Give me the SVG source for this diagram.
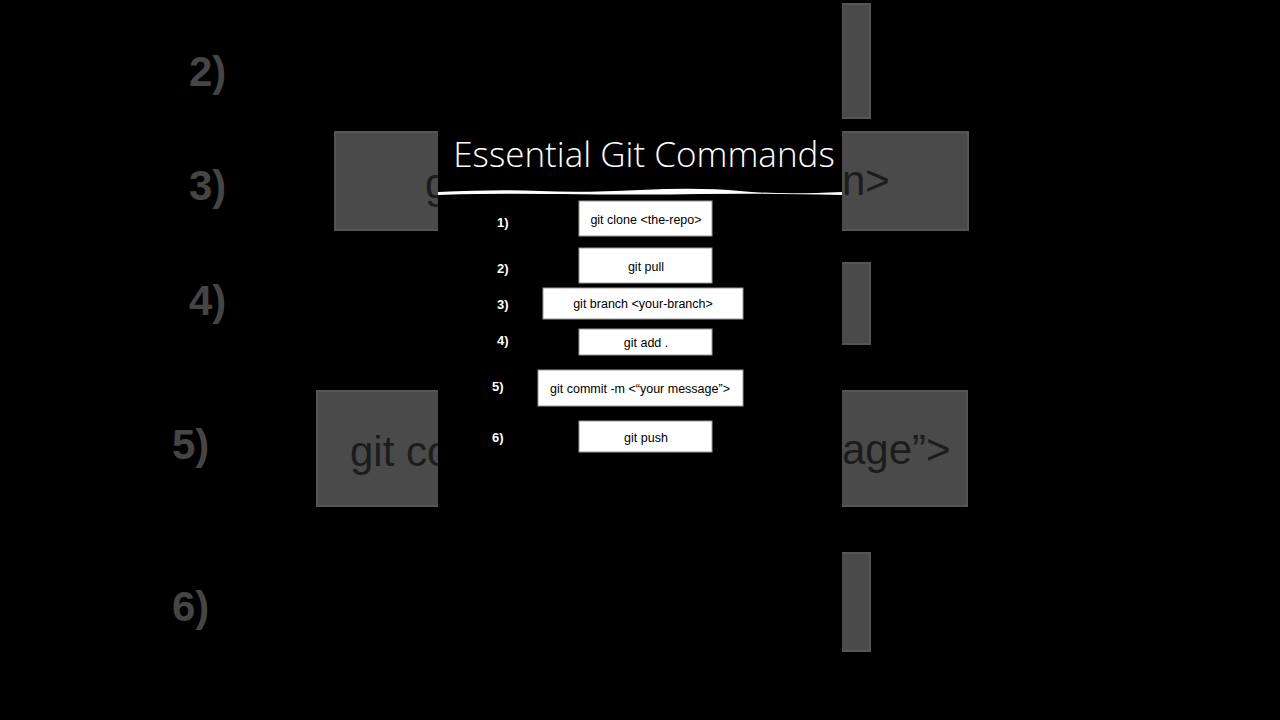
<svg xmlns="http://www.w3.org/2000/svg" width="1280" height="720" viewBox="0 0 1280 720">
<style>
.bg{fill:#4a4a4a;stroke:#555;stroke-width:2}
.bn{font-family:"Liberation Sans",Arial,sans-serif;font-weight:bold;font-size:42px;fill:#454545}
.bt{font-family:"Liberation Sans",Arial,sans-serif;font-size:42px;fill:#1c1c1c}
.box{fill:#fff;stroke:#999;stroke-width:1}
.cmd{font-family:"Liberation Sans",Arial,sans-serif;font-size:12.5px;fill:#000;text-anchor:middle}
.num{font-family:"Liberation Sans",Arial,sans-serif;font-weight:bold;font-size:13px;fill:#fff}
</style>
<rect width="1280" height="720" fill="#000"/>
<g id="background">
<rect class="bg" x="842" y="4" width="28" height="114"/>
<rect class="bg" x="335" y="132" width="110" height="98"/>
<rect class="bg" x="835" y="132" width="133" height="98"/>
<rect class="bg" x="835" y="263" width="35" height="81"/>
<rect class="bg" x="317" y="391" width="130" height="115"/>
<rect class="bg" x="835" y="391" width="132" height="115"/>
<rect class="bg" x="835" y="553" width="35" height="98"/>
<text class="bn" x="189" y="86">2)</text>
<text class="bn" x="189" y="200">3)</text>
<text class="bn" x="189" y="315">4)</text>
<text class="bn" x="172" y="459">5)</text>
<text class="bn" x="172" y="621">6)</text>
<text class="bt" x="425" y="198">g</text>
<text class="bt" x="842" y="195">n&gt;</text>
<text class="bt" x="350" y="466">git co</text>
<text class="bt" x="842" y="464">age”&gt;</text>
</g>
<rect x="438" y="0" width="404" height="720" fill="#000"/>
<g id="title">
<text x="644" y="167" font-family="'Open Sans',sans-serif" font-weight="300" font-size="35" fill="#fff" text-anchor="middle">Essential Git Commands</text>
<path d="M438 192 Q500 189 540 191 T640 190 T740 191 T842 192 L842 195 Q760 193 700 194 T560 194 T438 195 Z" fill="#fff"/>
</g>
<g id="connectors"></g>
<g id="n1"><text class="num" x="497" y="227">1)</text><rect class="box" x="579" y="201" width="133" height="35"/><text class="cmd" x="646" y="224">git clone &lt;the-repo&gt;</text></g>
<g id="n2"><text class="num" x="497" y="273">2)</text><rect class="box" x="579" y="248" width="133" height="35"/><text class="cmd" x="646" y="271">git pull</text></g>
<g id="n3"><text class="num" x="497" y="309">3)</text><rect class="box" x="543" y="288" width="200" height="31"/><text class="cmd" x="643" y="308">git branch &lt;your-branch&gt;</text></g>
<g id="n4"><text class="num" x="497" y="345">4)</text><rect class="box" x="579" y="329" width="133" height="26"/><text class="cmd" x="646" y="347">git add .</text></g>
<g id="n5"><text class="num" x="492" y="391">5)</text><rect class="box" x="538" y="370" width="205" height="36"/><text class="cmd" x="640" y="393">git commit -m &lt;“your message”&gt;</text></g>
<g id="n6"><text class="num" x="492" y="442">6)</text><rect class="box" x="579" y="421" width="133" height="31"/><text class="cmd" x="646" y="442">git push</text></g>
</svg>
